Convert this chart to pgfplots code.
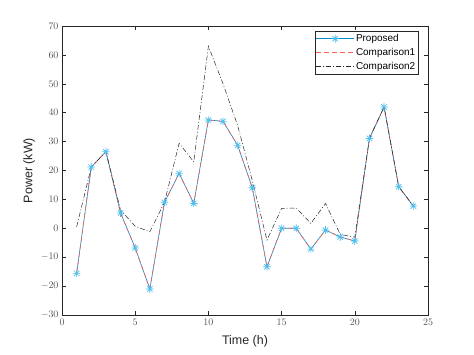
\documentclass[border=0pt]{standalone}
\usepackage{pgfplots}
\pgfplotsset{compat=1.18}
\usepackage{fontspec}
\setmainfont{Liberation Sans}
\definecolor{mblue}{rgb}{0,0.447,0.741}
\definecolor{mlight}{rgb}{0.30,0.75,0.93}
\definecolor{mred}{rgb}{1,0.35,0.35}
\definecolor{axgray}{rgb}{0.15,0.15,0.15}
\pgfdeclareplotmark{star8}{%
  \pgfpathmoveto{\pgfqpoint{-\pgfplotmarksize}{0pt}}\pgfpathlineto{\pgfqpoint{\pgfplotmarksize}{0pt}}%
  \pgfpathmoveto{\pgfqpoint{0pt}{-\pgfplotmarksize}}\pgfpathlineto{\pgfqpoint{0pt}{\pgfplotmarksize}}%
  \pgfpathmoveto{\pgfqpoint{-0.707\pgfplotmarksize}{-0.707\pgfplotmarksize}}\pgfpathlineto{\pgfqpoint{0.707\pgfplotmarksize}{0.707\pgfplotmarksize}}%
  \pgfpathmoveto{\pgfqpoint{-0.707\pgfplotmarksize}{0.707\pgfplotmarksize}}\pgfpathlineto{\pgfqpoint{0.707\pgfplotmarksize}{-0.707\pgfplotmarksize}}%
  \pgfusepathqstroke}
\pgfplotstableread{
x p c1 c2
1 -15.6 -15.6 0.5
2 21.2 21.2 21.2
3 26.5 26.5 26.5
4 5.3 5.3 6.3
5 -6.8 -6.8 0.7
6 -21.0 -21.0 -1.2
7 9.0 9.0 9.0
8 19.0 19.0 29.4
9 8.6 8.6 23.0
10 37.5 37.5 63.0
11 37.0 37.0 50.0
12 28.7 28.7 35.5
13 14.0 14.0 16.5
14 -13.3 -13.3 -4.1
15 0.0 0.0 6.9
16 0.0 0.0 7.0
17 -7.2 -7.2 1.7
18 -0.6 -0.6 8.6
19 -3.0 -3.0 -2.1
20 -4.4 -4.4 -3.1
21 31.1 31.1 31.1
22 42.0 42.0 42.0
23 14.4 14.4 14.4
24 7.7 7.7 7.7
}\data
\begin{document}
\begin{tikzpicture}
\useasboundingbox (-62bp,-40bp) rectangle (412bp,315bp);
\begin{axis}[
  scale only axis,
  width=366bp, height=289bp,
  at={(0,0)}, anchor=south west,
  xmin=0, xmax=25, ymin=-30, ymax=70,
  xtick={0,5,...,25}, ytick={-30,-20,...,70},
  tick align=inside,
  tick style={axgray, line width=0.5pt},
  major tick length=4bp,
  axis line style={axgray, line width=0.5pt},
  tick label style={font=\fontsize{10}{12}\selectfont, text=axgray!80},
  xticklabel style={yshift=-1bp},
  xlabel={Time (h)}, ylabel={Power (kW)},
  label style={font=\fontsize{12.5}{14}\selectfont, text=axgray},
  xlabel style={yshift=-3bp},
  ylabel style={yshift=-1bp},
  legend style={at={(0.9727,0.9827)}, anchor=north east, draw=axgray, line width=0.5pt,
    font=\fontsize{10}{12}\selectfont, inner xsep=1bp, inner ysep=1.5bp, row sep=2bp,
    nodes={inner xsep=1.5bp, inner ysep=1bp, text height=8bp, text depth=2bp},
    cells={anchor=west}},
  legend cell align=left,
  legend image code/.code={\draw[mark repeat=2,mark phase=2,#1] plot coordinates {(0bp,0bp)(19bp,0bp)(38bp,0bp)};},
]
\addplot[mblue!80!cyan, line width=0.6pt, mark=star8, mark size=3.8bp, mark options={mlight, line width=0.7pt}] table[x=x,y=p] {\data};
\addlegendentry{Proposed}
\addplot[mred, line width=0.6pt, dash pattern=on 5bp off 3bp] table[x=x,y=c1] {\data};
\addlegendentry{Comparison1}
\addplot[black!85, line width=0.5pt, dash pattern=on 5bp off 2bp on 1bp off 2bp] table[x=x,y=c2] {\data};
\addlegendentry{Comparison2}
\end{axis}
\end{tikzpicture}
\end{document}
